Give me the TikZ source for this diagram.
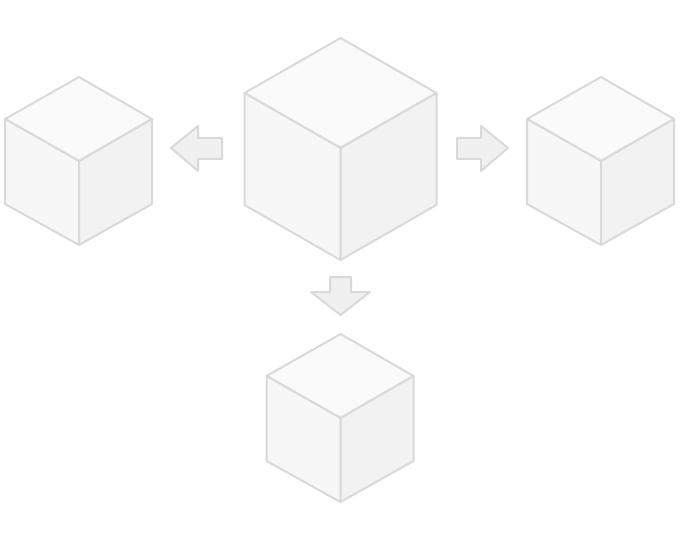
\documentclass[tikz,border=0pt]{standalone}
\begin{document}
\begin{tikzpicture}[x=1pt,y=-1pt,line join=round,
  edge/.style={draw=black!15,line width=2pt},
  topf/.style={edge,fill=black!2},
  leftf/.style={edge,fill=black!3},
  rightf/.style={edge,fill=black!5},
  arr/.style={edge,fill=black!6}]
\useasboundingbox (0,0) rectangle (680,540);
% cube macro via pic
\tikzset{cube/.pic={
  \path[topf] (0,-55) -- (-96,0) -- (0,55) -- (96,0) -- cycle;
  \path[leftf] (-96,0) -- (0,55) -- (0,167) -- (-96,112) -- cycle;
  \path[rightf] (96,0) -- (0,55) -- (0,167) -- (96,112) -- cycle;
}}
\tikzset{smallcube/.pic={
  \path[topf] (0,-42) -- (-74,0) -- (0,42) -- (73,0) -- cycle;
  \path[leftf] (-74,0) -- (0,42) -- (0,126) -- (-74,85) -- cycle;
  \path[rightf] (73,0) -- (0,42) -- (0,126) -- (73,85) -- cycle;
}}
\pic at (340.5,93) {cube};
\pic at (79,119) {smallcube};
\pic at (601,119) {smallcube};
\pic at (340.5,376) {smallcube};
\path[arr] (171,148) -- (198,126) -- (198,138) -- (222,138) -- (222,159) -- (198,159) -- (198,171) -- cycle;
\path[arr] (508,148) -- (481,126) -- (481,138) -- (457,138) -- (457,159) -- (481,159) -- (481,171) -- cycle;
\path[arr] (340.5,315) -- (311,292) -- (330,292) -- (330,277) -- (351,277) -- (351,292) -- (370,292) -- cycle;
\end{tikzpicture}
\end{document}
